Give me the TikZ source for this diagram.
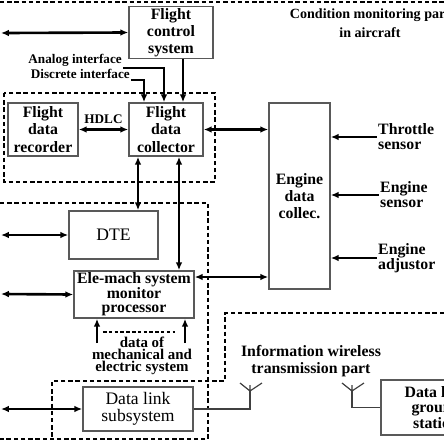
\documentclass[tikz,border=0pt]{standalone}
\usepackage{fontspec}
\setmainfont{Liberation Serif}
\usetikzlibrary{arrows.meta}
\tikzset{
	blk/.style={draw=black!65, line width=0.9pt, align=center, inner sep=1pt, font=\bfseries\fontsize{9}{9.8}\selectfont},
	lbl/.style={align=center, inner sep=0.5pt, font=\bfseries\fontsize{9}{8.6}\selectfont},
	sens/.style={align=left, anchor=west, inner sep=0.5pt, font=\bfseries\fontsize{9}{8.6}\selectfont},
	arr/.style={line width=1.5pt, -{Latex[length=4.5pt,width=3.8pt]}},
	dbl/.style={line width=1.5pt, {Latex[length=4.5pt,width=3.8pt]}-{Latex[length=4.5pt,width=3.8pt]}},
	sarr/.style={line width=1.1pt, -{Latex[length=4.5pt,width=3.8pt]}},
	bnd/.style={line width=1pt, dash pattern=on 2.5pt off 1.6pt},
	wire/.style={line width=0.7pt, draw=black!75}
}
\begin{document}
\begin{tikzpicture}[x=0.02cm,y=-0.02cm]
	\useasboundingbox (0,0) rectangle (444,444);
	\clip (0,0) rectangle (444,444);
	\draw[bnd] (0,2) -- (444,2);
	\draw[bnd] (4,93) rectangle (215,182);
	\draw[bnd] (0,203) -- (208,203) -- (208,439) -- (0,439);
	\draw[bnd] (444,313) -- (225,313) -- (225,381) -- (52,381) -- (52,439);
	\node[blk, minimum width=1.68cm, minimum height=1.02cm] (fcs) at (171,32.5) {Flight\\control\\system};
	\node[blk, minimum width=1.4cm, minimum height=1.06cm] (fdr) at (43,129.5) {Flight\\data\\recorder};
	\node[blk, minimum width=1.48cm, minimum height=1.06cm] (fdc) at (166,129.5) {Flight\\data\\collector};
	\node[blk, font=\fontsize{10}{10}\selectfont, minimum width=1.78cm, minimum height=0.96cm] (dte) at (113.5,235) {DTE};
	\node[blk, font=\bfseries\fontsize{9}{8.3}\selectfont, minimum width=2.4cm, minimum height=0.92cm] (emp) at (134,294.5) {Ele-mach system\\monitor\\processor};
	\node[blk, font=\fontsize{10}{9.8}\selectfont, minimum width=2.2cm, minimum height=0.88cm] (dls) at (138,409) {Data link\\subsystem};
	\node[blk, minimum width=1.22cm, minimum height=3.72cm] (edc) at (299.5,196) {Engine\\data\\collec.};
	\node[blk, font=\bfseries\fontsize{9}{8.6}\selectfont, minimum width=2.2cm, minimum height=1.1cm] (gs) at (436,407.5) {Data link\\ground\\station};
	\node[lbl, font=\bfseries\fontsize{8}{11}\selectfont] (cond) at (370,23) {Condition monitoring part\\in aircraft};
	\node[lbl, font=\bfseries\fontsize{7.5}{7.5}\selectfont, anchor=south east] (ana) at (123,68) {Analog interface};
	\node[lbl, font=\bfseries\fontsize{7.5}{7.5}\selectfont, anchor=south east] (dis) at (131,80) {Discrete interface};
	\node[sens] (thr) at (377,137) {Throttle\\sensor};
	\node[sens] (eng) at (379,195) {Engine\\sensor};
	\node[sens] (adj) at (377,258) {Engine\\adjustor};
	\node[lbl, font=\bfseries\fontsize{8.5}{7}\selectfont] (mech) at (142,356) {data of\\mechanical and\\electric system};
	\node[lbl, font=\bfseries\fontsize{9}{10}\selectfont] (iwt) at (311,361) {Information wireless\\transmission part};
	\coordinate (lfcs) at (1,33);
	\coordinate (ldte) at (1,235);
	\coordinate (lemp) at (1,294);
	\coordinate (ldls) at (1,409);
	\coordinate (m1) at (97,343);
	\coordinate (m2) at (185,343);
	\coordinate (ant1) at (250,391);
	\coordinate (ant2) at (352,391);
	\draw[dbl] (lfcs) -- (fcs.west);
	\draw[arr] ([xshift=0.24cm]fcs.south) -- ([xshift=0.24cm]fcs.south |- fdc.north);
	\draw[arr] (ana.south east) -| ([xshift=-0.04cm]fdc.north);
	\draw[arr] (dis.south east) -| ([xshift=-0.44cm]fdc.north);
	\draw[dbl] (fdr.east) -- node[above=2pt, inner sep=0.5pt, font=\bfseries\fontsize{7.5}{7.5}\selectfont] (hdlc) {HDLC} (fdc.west);
	\draw[dbl] (fdc.east) -- (fdc.east -| edc.west);
	\draw[dbl] ([xshift=-0.56cm]fdc.south) -- ([xshift=-0.56cm]fdc.south |- dte.north);
	\draw[dbl] ([xshift=0.26cm]fdc.south) -- ([xshift=0.26cm]fdc.south |- emp.north);
	\draw[dbl] (ldte) -- (dte.west);
	\draw[dbl] (lemp) -- (emp.west);
	\draw[dbl] ([yshift=0.35cm]emp.east) -- ([yshift=0.35cm]emp.east -| edc.west);
	\draw[arr] (m1) -- (m1 |- emp.south);
	\draw[arr] (m2) -- (m2 |- emp.south);
	\draw[line width=0.7pt, dash pattern=on 2pt off 1.3pt] (103,332) -- (175,332);
	\draw[dbl] (ldls) -- (dls.west);
	\draw[sarr] (thr.west) -- (thr.west -| edc.east);
	\draw[sarr] (eng.west) -- (eng.west -| edc.east);
	\draw[sarr] (adj.west) -- (adj.west -| edc.east);
	\draw[wire] (dls.east) -| (ant1);
	\draw[wire] (ant1) -- ++(-10,-8) (ant1) -- ++(12,-8) (ant1) -- ++(0,-6);
	\draw[wire] (ant2) |- (gs.west);
	\draw[wire] (ant2) -- ++(-10,-8) (ant2) -- ++(12,-8) (ant2) -- ++(0,-6);
\end{tikzpicture}
\end{document}
